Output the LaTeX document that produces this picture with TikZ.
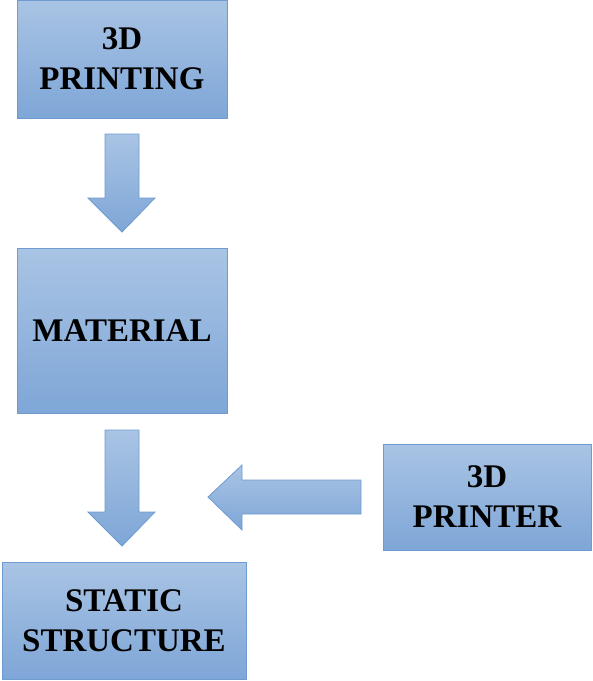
\documentclass[tikz,border=0pt]{standalone}
\usepackage{fontspec}
\setmainfont{Liberation Serif}
\definecolor{boxtop}{HTML}{A9C4E4}
\definecolor{boxbot}{HTML}{7EA6D7}
\definecolor{boxline}{HTML}{6E9BD0}
\begin{document}
\begin{tikzpicture}[x=1pt,y=-1pt,
  blk/.style={draw=boxline,line width=0.8pt,top color=boxtop,bottom color=boxbot,
    align=center,inner sep=0pt,font=\bfseries\fontsize{33}{40}\selectfont},
  barrow/.style={draw=boxline,line width=0.8pt,top color=boxtop,bottom color=boxbot,line join=miter}]
\useasboundingbox (0,0) rectangle (593,681);
\node[blk,minimum width=210pt,minimum height=118pt] (print) at (122,59) {3D\\PRINTING};
\node[blk,minimum width=210pt,minimum height=165pt] (mat) at (122,331) {MATERIAL};
\node[blk,minimum width=208pt,minimum height=106pt] (printer) at (487,497) {3D\\PRINTER};
\node[blk,minimum width=244pt,minimum height=117pt] (stat) at (124,620.5) {STATIC\\STRUCTURE};
% block arrows
\draw[barrow] (105,134) -- (139,134) -- (139,198) -- (155,198) -- (122,232) -- (88,198) -- (105,198) -- cycle;
\draw[barrow] (105,430) -- (139,430) -- (139,512) -- (155,512) -- (122,546) -- (88,512) -- (105,512) -- cycle;
\draw[barrow] (361,480) -- (361,514) -- (242,514) -- (242,530) -- (208,497) -- (242,465) -- (242,480) -- cycle;
\end{tikzpicture}
\end{document}
